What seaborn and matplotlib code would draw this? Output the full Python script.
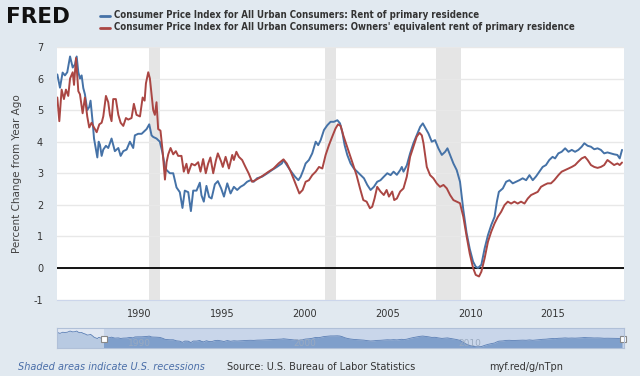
import matplotlib
matplotlib.use("Agg")
import matplotlib.pyplot as plt
import seaborn as sns

# Rent of primary residence, % change from year ago
rent_dates = [1985.02, 1985.18, 1985.34, 1985.48, 1985.62, 1985.79, 1985.95, 1986.09, 1986.19, 1986.29,
              1986.39, 1986.49, 1986.59, 1986.69, 1986.83, 1986.95, 1987.03, 1987.16, 1987.24, 1987.36,
              1987.44, 1987.52, 1987.60, 1987.70, 1987.80, 1987.96, 1988.10, 1988.30, 1988.50, 1988.71,
              1988.85, 1989.01, 1989.21, 1989.41, 1989.61, 1989.71, 1989.91, 1990.12, 1990.32, 1990.42,
              1990.58, 1990.72, 1990.82, 1991.02, 1991.22, 1991.38, 1991.53, 1991.63, 1991.83, 1992.03,
              1992.23, 1992.43, 1992.59, 1992.73, 1992.94, 1993.10, 1993.24, 1993.44, 1993.64, 1993.74,
              1993.88, 1994.04, 1994.20, 1994.35, 1994.55, 1994.73, 1994.93, 1995.10, 1995.30, 1995.50,
              1995.70, 1995.90, 1996.10, 1996.30, 1996.50, 1996.70, 1996.90, 1997.10, 1997.40, 1997.70,
              1998.00, 1998.30, 1998.60, 1998.70, 1998.90, 1999.10, 1999.40, 1999.60, 1999.74, 1999.90,
              2000.04, 2000.24, 2000.44, 2000.65, 2000.80, 2000.95, 2001.15, 2001.35, 2001.55, 2001.75,
              2001.96, 2002.12, 2002.26, 2002.40, 2002.56, 2002.76, 2002.96, 2003.16, 2003.37, 2003.57,
              2003.77, 2003.97, 2004.17, 2004.37, 2004.57, 2004.77, 2004.98, 2005.18, 2005.36, 2005.56,
              2005.76, 2005.86, 2005.96, 2006.16, 2006.36, 2006.56, 2006.76, 2006.97, 2007.13, 2007.27,
              2007.47, 2007.67, 2007.87, 2008.07, 2008.28, 2008.48, 2008.62, 2008.78, 2008.98, 2009.18,
              2009.38, 2009.58, 2009.78, 2009.97, 2010.17, 2010.33, 2010.47, 2010.67, 2010.87, 2011.07,
              2011.27, 2011.47, 2011.61, 2011.73, 2011.97, 2012.17, 2012.37, 2012.57, 2012.77, 2012.97,
              2013.17, 2013.38, 2013.58, 2013.78, 2013.98, 2014.18, 2014.38, 2014.58, 2014.78, 2014.98,
              2015.13, 2015.33, 2015.53, 2015.74, 2015.94, 2016.14, 2016.34, 2016.54, 2016.74, 2016.90,
              2017.10, 2017.30, 2017.50, 2017.70, 2017.90, 2018.10, 2018.30, 2018.50, 2018.70, 2018.90,
              2019.04, 2019.18]
rent_vals = [6.13, 5.71, 6.19, 6.10, 6.20, 6.70, 6.35, 6.45, 6.70, 6.20,
             6.00, 6.10, 5.70, 5.50, 5.00, 5.10, 5.30, 4.60, 4.10, 3.75,
             3.50, 4.00, 3.90, 3.55, 3.75, 3.87, 3.80, 4.10, 3.70, 3.80,
             3.55, 3.70, 3.75, 4.00, 3.80, 4.20, 4.25, 4.25, 4.35, 4.40,
             4.55, 4.20, 4.15, 4.10, 4.00, 3.65, 3.20, 3.10, 3.00, 3.00,
             2.55, 2.40, 1.90, 2.45, 2.40, 1.80, 2.45, 2.45, 2.70, 2.30,
             2.10, 2.60, 2.25, 2.20, 2.65, 2.75, 2.52, 2.26, 2.68, 2.36,
             2.57, 2.47, 2.57, 2.63, 2.73, 2.78, 2.73, 2.84, 2.89, 2.99,
             3.10, 3.20, 3.31, 3.42, 3.26, 3.10, 2.89, 2.78, 2.89, 3.10,
             3.31, 3.42, 3.63, 4.00, 3.89, 4.05, 4.37, 4.52, 4.63, 4.63,
             4.68, 4.58, 4.30, 3.89, 3.58, 3.31, 3.15, 3.05, 2.94, 2.84,
             2.63, 2.47, 2.57, 2.73, 2.78, 2.89, 3.00, 2.94, 3.05, 2.95,
             3.10, 3.20, 3.05, 3.25, 3.63, 3.95, 4.20, 4.47, 4.58, 4.45,
             4.26, 4.00, 4.05, 3.79, 3.58, 3.68, 3.79, 3.58, 3.31, 3.10,
             2.73, 1.84, 1.10, 0.60, 0.20, 0.04, 0.00, 0.10, 0.62, 1.04,
             1.36, 1.62, 2.10, 2.41, 2.52, 2.73, 2.78, 2.68, 2.73, 2.78,
             2.84, 2.78, 2.94, 2.78, 2.90, 3.05, 3.20, 3.26, 3.42, 3.52,
             3.47, 3.63, 3.68, 3.79, 3.68, 3.74, 3.68, 3.74, 3.84, 3.95,
             3.87, 3.84, 3.76, 3.79, 3.74, 3.63, 3.66, 3.63, 3.60, 3.58,
             3.47, 3.74]

# Owners' equivalent rent of primary residence
oer_dates = [1985.02, 1985.14, 1985.28, 1985.42, 1985.54, 1985.68, 1985.79, 1985.95, 1986.03, 1986.15,
             1986.29, 1986.39, 1986.55, 1986.69, 1986.83, 1986.95, 1987.09, 1987.24, 1987.40, 1987.56,
             1987.70, 1987.80, 1987.96, 1988.10, 1988.20, 1988.30, 1988.40, 1988.56, 1988.71, 1988.85,
             1989.01, 1989.17, 1989.31, 1989.51, 1989.65, 1989.81, 1990.02, 1990.18, 1990.30, 1990.38,
             1990.52, 1990.62, 1990.72, 1990.82, 1990.92, 1991.02, 1991.12, 1991.26, 1991.38, 1991.53,
             1991.63, 1991.73, 1991.87, 1992.03, 1992.19, 1992.33, 1992.53, 1992.67, 1992.83, 1992.94,
             1993.14, 1993.34, 1993.54, 1993.68, 1993.84, 1994.00, 1994.14, 1994.28, 1994.45, 1994.61,
             1994.73, 1994.93, 1995.03, 1995.20, 1995.40, 1995.60, 1995.70, 1995.85, 1996.00, 1996.20,
             1996.40, 1996.60, 1996.80, 1997.00, 1997.20, 1997.50, 1997.80, 1998.10, 1998.40, 1998.70,
             1998.90, 1999.10, 1999.30, 1999.50, 1999.66, 1999.86, 2000.04, 2000.24, 2000.44, 2000.65,
             2000.85, 2001.05, 2001.25, 2001.45, 2001.65, 2001.85, 2002.00, 2002.16, 2002.32, 2002.52,
             2002.72, 2002.92, 2003.12, 2003.33, 2003.53, 2003.73, 2003.93, 2004.07, 2004.21, 2004.37,
             2004.57, 2004.77, 2004.94, 2005.08, 2005.28, 2005.40, 2005.56, 2005.76, 2005.96, 2006.16,
             2006.36, 2006.56, 2006.76, 2006.93, 2007.07, 2007.17, 2007.37, 2007.57, 2007.77, 2007.97,
             2008.17, 2008.38, 2008.58, 2008.78, 2008.98, 2009.18, 2009.38, 2009.58, 2009.78, 2009.97,
             2010.17, 2010.33, 2010.53, 2010.67, 2010.87, 2011.07, 2011.27, 2011.47, 2011.67, 2011.87,
             2012.07, 2012.27, 2012.47, 2012.67, 2012.87, 2013.07, 2013.28, 2013.48, 2013.68, 2013.88,
             2014.08, 2014.28, 2014.48, 2014.68, 2014.88, 2015.08, 2015.33, 2015.53, 2015.74, 2015.94,
             2016.14, 2016.34, 2016.54, 2016.74, 2016.94, 2017.10, 2017.30, 2017.50, 2017.70, 2017.90,
             2018.10, 2018.30, 2018.50, 2018.70, 2018.90, 2019.04, 2019.18]
oer_vals = [5.40, 4.65, 5.65, 5.35, 5.65, 5.45, 6.00, 6.20, 5.80, 6.65,
            5.60, 5.50, 4.90, 5.40, 4.80, 4.45, 4.60, 4.45, 4.30, 4.55,
            4.60, 4.80, 5.45, 5.25, 4.85, 4.65, 5.35, 5.35, 4.85, 4.60,
            4.50, 4.75, 4.70, 4.75, 5.20, 4.85, 4.80, 5.40, 5.30, 5.85,
            6.20, 6.00, 5.50, 5.00, 4.85, 5.25, 4.40, 4.35, 3.75, 2.80,
            3.35, 3.60, 3.80, 3.60, 3.70, 3.55, 3.55, 3.05, 3.30, 3.00,
            3.30, 3.25, 3.35, 3.05, 3.45, 3.00, 3.30, 3.50, 3.00, 3.40,
            3.63, 3.37, 3.20, 3.52, 3.15, 3.58, 3.42, 3.68, 3.52, 3.42,
            3.20, 2.99, 2.73, 2.78, 2.84, 2.94, 3.05, 3.15, 3.31, 3.44,
            3.31, 3.10, 2.84, 2.57, 2.36, 2.47, 2.73, 2.78, 2.94, 3.05,
            3.20, 3.15, 3.58, 3.89, 4.16, 4.42, 4.55, 4.50, 4.20, 3.89,
            3.58, 3.26, 2.94, 2.52, 2.15, 2.10, 1.89, 1.94, 2.20, 2.57,
            2.42, 2.31, 2.47, 2.26, 2.42, 2.15, 2.20, 2.42, 2.52, 2.89,
            3.52, 3.84, 4.16, 4.28, 4.20, 3.95, 3.20, 2.94, 2.84, 2.68,
            2.57, 2.63, 2.52, 2.31, 2.15, 2.10, 2.05, 1.62, 1.00, 0.45,
            0.00, -0.22, -0.27, -0.12, 0.31, 0.83, 1.15, 1.41, 1.62, 1.78,
            1.99, 2.10, 2.04, 2.10, 2.04, 2.10, 2.04, 2.20, 2.31, 2.36,
            2.41, 2.57, 2.63, 2.68, 2.68, 2.78, 2.94, 3.05, 3.10, 3.15,
            3.20, 3.26, 3.37, 3.47, 3.52, 3.42, 3.26, 3.20, 3.17, 3.20,
            3.26, 3.42, 3.34, 3.26, 3.31, 3.26, 3.34]

# NBER recessions (start, end)
rec_start = [1990.58, 2001.21, 2007.92]
rec_end = [1991.21, 2001.88, 2009.46]

x_ticks = [1990, 1995, 2000, 2005, 2010, 2015]
y_ticks = [-1, 0, 1, 2, 3, 4, 5, 6, 7]

rent_label = "Consumer Price Index for All Urban Consumers: Rent of primary residence"
oer_label = "Consumer Price Index for All Urban Consumers: Owners' equivalent rent of primary residence"

BG = "#e1e9f0"
BLUE = "#4572a7"
RED = "#aa4643"

sns.set_style("white")
plt.rcParams['font.family'] = ['DejaVu Sans']
plt.rcParams['axes.unicode_minus'] = False

fig = plt.figure(figsize=(6.4, 3.76), dpi=100, facecolor=BG)
ax = fig.add_axes([57 / 640, 1 - 299.5 / 376, 567 / 640, 252.5 / 376])
ax.set_facecolor("white")

for s, e in zip(rec_start, rec_end):
    ax.axvspan(s, e, color="#e5e5e5", lw=0, zorder=0)

ax.set_xlim(1985.0, 2019.3)
ax.set_ylim(-1, 7)
ax.set_yticks(y_ticks)
ax.set_xticks(x_ticks)
ax.yaxis.grid(True, color="#e8e8e8", lw=1)
ax.xaxis.grid(False)
ax.axhline(0, color="black", lw=1.3, zorder=2)

sns.lineplot(x=rent_dates, y=rent_vals, ax=ax, color=BLUE, lw=1.4, estimator=None, zorder=3)
sns.lineplot(x=oer_dates, y=oer_vals, ax=ax, color=RED, lw=1.4, estimator=None, zorder=3)

for sp in ["top", "right", "left"]:
    ax.spines[sp].set_visible(False)
ax.spines["bottom"].set_color("#ccd6eb")
ax.tick_params(axis="x", colors="#ccd6eb", length=5, width=1, direction="out",
               labelcolor="#333333", labelsize=7, pad=2)
ax.tick_params(axis="y", length=0, labelcolor="#333333", labelsize=7, pad=10)
ax.set_ylabel("Percent Change from Year Ago", color="#444444", fontsize=7.5, labelpad=8)

# header
fig.text(6 / 640, 1 - 17 / 376, "FRED", fontsize=15.5, fontweight="bold", color="#111111", va="center")
fig.add_artist(plt.Line2D([100 / 640, 110 / 640], [1 - 15.5 / 376] * 2, color=BLUE, lw=2))
fig.add_artist(plt.Line2D([100 / 640, 110 / 640], [1 - 27.5 / 376] * 2, color=RED, lw=2))
fig.text(114 / 640, 1 - 15.5 / 376, rent_label, fontsize=6.9, fontweight="bold",
         fontstretch="condensed", color="#333333", va="center")
fig.text(114 / 640, 1 - 27.5 / 376, oer_label, fontsize=6.9, fontweight="bold",
         fontstretch="condensed", color="#333333", va="center")

# navigator strip
nav = fig.add_axes([57 / 640, 1 - 348 / 376, 567 / 640, 20 / 376])
nav.set_facecolor("#c9d6ea")
nav.fill_between(rent_dates, -0.5, rent_vals, color="#7f9fcb", lw=0)
nav.plot(rent_dates, rent_vals, color="#5b7fb5", lw=0.6)
nav.set_xlim(1985.0, 2019.3)
nav.set_ylim(-0.5, 8)
nav.axvspan(1985.0, 1987.85, color="white", alpha=0.45, lw=0)
nav.set_xticks([])
nav.set_yticks([])
for sp in nav.spines.values():
    sp.set_color("#b0c0d8")
for t in [1990, 2000, 2010]:
    nav.text(t, 1.2, str(t), color="#9aaac0", fontsize=6.5, ha="center", va="center")
for hx in [1987.85, 2019.25]:
    nav.plot([hx], [3.5], marker="s", ms=5, mfc="white", mec="#888888", mew=0.8, clip_on=False)

# footer
fig.text(18 / 640, 1 - 367 / 376, "Shaded areas indicate U.S. recessions", fontsize=7,
         style="italic", color="#4a6ea8", va="center")
fig.text(227 / 640, 1 - 367 / 376, "Source: U.S. Bureau of Labor Statistics", fontsize=7,
         color="#333333", va="center")
fig.text(489 / 640, 1 - 367 / 376, "myf.red/g/nTpn", fontsize=7, color="#333333", va="center")

fig.savefig("out.png", dpi=100, facecolor=BG)
